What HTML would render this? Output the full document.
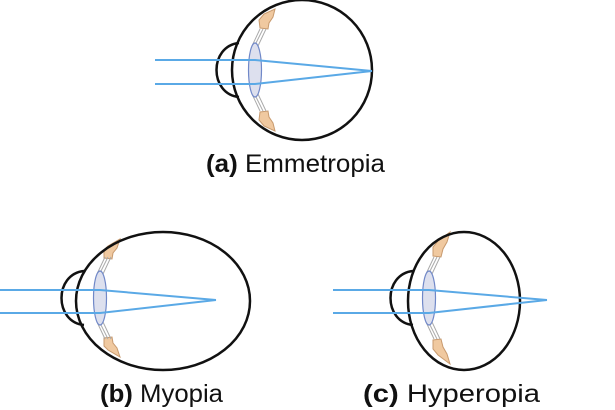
<!DOCTYPE html>
<html><head><meta charset="utf-8"><style>
html,body{margin:0;padding:0;background:#fff;}
svg{display:block;}
text{font-family:"Liberation Sans","DejaVu Sans",sans-serif;font-size:25px;fill:#111;}
</style></head><body>
<svg width="615" height="410" viewBox="0 0 615 410" xmlns="http://www.w3.org/2000/svg">
<defs>
<g id="front">
  <path d="M-16,-27 C-46,-24 -46,24 -16,27" fill="none" stroke="#111" stroke-width="2.5"/>
  <g stroke="#aaa" stroke-width="1">
    <line x1="5" y1="-41" x2="-3" y2="-24"/><line x1="8" y1="-41" x2="0" y2="-25"/><line x1="11" y1="-41" x2="3" y2="-24"/>
    <line x1="5" y1="41" x2="-3" y2="24"/><line x1="8" y1="41" x2="0" y2="25"/><line x1="11" y1="41" x2="3" y2="24"/>
  </g>
  <ellipse cx="0" cy="0" rx="6.5" ry="27" fill="#dde0ee" stroke="#7088c8" stroke-width="1.2"/>
</g>
</defs>

<g fill="#f0c9a0" stroke="#c89a6e" stroke-width="1">
  <path d="M260,28 L259,20 L264,14 L275,9 L273,17 L269,23 L268,29 Z"/>
  <path d="M260,112 L259,120 L264,126 L275,131 L273,123 L269,117 L268,111 Z"/>
  <path d="M104,258 L104,250 L108,246 L120,239 L117,248 L113,253 L112,259 Z"/>
  <path d="M104,338 L104,346 L108,350 L120,357 L117,348 L113,343 L112,337 Z"/>
  <path d="M433,256 L433,247 L438,241 L450,232 L447,242 L443,249 L441,257 Z"/>
  <path d="M433,340 L433,349 L438,355 L450,364 L447,354 L443,347 L441,339 Z"/>
</g>

<circle cx="302" cy="70" r="70" fill="none" stroke="#111" stroke-width="2.5"/>
<use href="#front" x="255" y="70"/>
<g stroke="#5aa9e6" stroke-width="2" fill="none">
  <polyline points="155,60 255,60 372,71"/>
  <polyline points="155,84 255,84 372,71"/>
</g>
<text x="206" y="172" textLength="179" lengthAdjust="spacingAndGlyphs"><tspan font-weight="bold">(a)</tspan> Emmetropia</text>

<ellipse cx="163" cy="301" rx="87" ry="69" fill="none" stroke="#111" stroke-width="2.5"/>
<use href="#front" x="100" y="298"/>
<g stroke="#5aa9e6" stroke-width="2" fill="none">
  <polyline points="0,290 100,290 216,300"/>
  <polyline points="0,313 100,313 216,300"/>
</g>
<text x="100" y="402" textLength="123" lengthAdjust="spacingAndGlyphs"><tspan font-weight="bold">(b)</tspan> Myopia</text>

<ellipse cx="464" cy="301" rx="56" ry="69" fill="none" stroke="#111" stroke-width="2.5"/>
<use href="#front" x="429" y="298"/>
<g stroke="#5aa9e6" stroke-width="2" fill="none">
  <polyline points="333,290 429,290 547,300"/>
  <polyline points="333,313 429,313 547,300"/>
</g>
<text x="363" y="402" textLength="177" lengthAdjust="spacingAndGlyphs"><tspan font-weight="bold">(c)</tspan> Hyperopia</text>
</svg>
</body></html>
